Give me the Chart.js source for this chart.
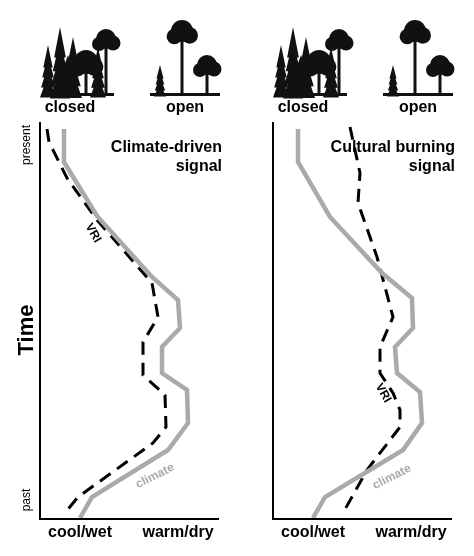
<!DOCTYPE html>
<html>
<head>
<meta charset="utf-8">
<script src="https://cdn.jsdelivr.net/npm/chart.js@4"></script>
<style>
  body { margin: 0; background: #fff; }
  .panel { position: absolute; top: 0; width: 237px; height: 556px; }
</style>
</head>
<body>
<div class="panel" style="left:0"><canvas id="left"></canvas></div>
<div class="panel" style="left:237px"><canvas id="right"></canvas></div>
<script>
// x: cool/wet (0) -> warm/dry (179), y: past (0) -> present (397)
const climateLeft = [[24,390],[24,357],[57,303],[112,242],[138,219],[140,191],[122,172],[122,146],[147,129],[148,96],[128,69],[52,22],[40,1]];
const vriLeft = [[7,390],[9,377],[27,341],[57,299],[112,236],[118,202],[103,177],[103,144],[125,124],[126,92],[113,76],[38,22],[25,6]];
const climateRight = [[25,390],[25,357],[57,302],[109,246],[139,221],[140,191],[122,172],[124,146],[147,127],[149,96],[130,69],[52,22],[40,1]];
const vriRight = [[77,392],[87,346],[85,316],[104,262],[120,202],[107,172],[107,146],[120,126],[127,109],[127,92],[94,49],[70,6]];
const axisLabels = ["cool/wet", "warm/dry"];
const treeLabels = ["closed", "open"];

const toPts = (arr) => arr.map(([x, y]) => ({ x, y }));

const conifer = (ctx, x, base, h, w) => {
    ctx.beginPath();
    const tiers = 4;
    for (let i = 0; i < tiers; i++) {
        const top = base - h + (h * i) / tiers * 0.8;
        const bot = top + h * 0.45;
        const ww = w * (0.45 + 0.55 * (i + 1) / tiers) / 2;
        ctx.moveTo(x, top);
        ctx.lineTo(x + ww, bot);
        ctx.lineTo(x - ww, bot);
        ctx.closePath();
    }
    ctx.fill();
    ctx.fillRect(x - 1, base - h * 0.2, 2, h * 0.2);
};
const blob = (ctx, x, y, r) => {
    ctx.beginPath();
    ctx.arc(x, y, r, 0, Math.PI * 2);
    ctx.fill();
};
const broad = (ctx, x, base, h, r) => {
    ctx.fillRect(x - 1.5, base - h + r, 3, h - r);
    blob(ctx, x, base - h + r, r);
    blob(ctx, x - r * 0.7, base - h + r * 1.5, r * 0.7);
    blob(ctx, x + r * 0.7, base - h + r * 1.4, r * 0.75);
};

const decor = {
    id: "decor",
    afterDraw(chart, args, opts) {
        const ctx = chart.ctx;
        const { left, right, top, bottom } = chart.chartArea;
        ctx.save();
        // axes
        ctx.strokeStyle = "#000";
        ctx.lineWidth = 2;
        ctx.beginPath();
        ctx.moveTo(left, top);
        ctx.lineTo(left, bottom);
        ctx.lineTo(right, bottom);
        ctx.stroke();
        // trees
        ctx.fillStyle = "#111";
        const b = 95;
        conifer(ctx, left + 8, b, 50, 16);
        conifer(ctx, left + 20, b, 68, 20);
        conifer(ctx, left + 33, b, 58, 18);
        broad(ctx, left + 46, b, 45, 12);
        conifer(ctx, left + 58, b, 48, 16);
        broad(ctx, left + 66, b, 66, 10);
        conifer(ctx, left + 28, b, 40, 22);
        conifer(ctx, left + 120, b, 30, 12);
        broad(ctx, left + 142, b, 75, 11);
        broad(ctx, left + 167, b, 40, 10);
        ctx.fillRect(left + 110, b - 2, 70, 3);
        ctx.fillRect(left + 2, b - 2, 72, 3);
        // labels
        ctx.fillStyle = "#000";
        ctx.textAlign = "center";
        ctx.textBaseline = "middle";
        ctx.font = "bold 16px Arial, 'Liberation Sans', sans-serif";
        ctx.fillText(treeLabels[0], left + 30, 108);
        ctx.fillText(treeLabels[1], left + 145, 108);
        ctx.fillText(axisLabels[0], left + 40, 533);
        ctx.fillText(axisLabels[1], left + 138, 533);
        ctx.textAlign = "right";
        ctx.fillText(opts.title[0], right + 3, 148);
        ctx.fillText(opts.title[1], right + 3, 167);
        // VRI label
        ctx.save();
        ctx.translate(left + opts.vri[0], opts.vri[1]);
        ctx.rotate(opts.vri[2] * Math.PI / 180);
        ctx.textAlign = "center";
        ctx.font = "bold 12px Arial, 'Liberation Sans', sans-serif";
        ctx.fillText("VRI", 0, 0);
        ctx.restore();
        // climate label
        ctx.save();
        ctx.translate(left + opts.clim[0], opts.clim[1]);
        ctx.rotate(-27 * Math.PI / 180);
        ctx.textAlign = "center";
        ctx.fillStyle = "#aaa";
        ctx.font = "bold 12px Arial, 'Liberation Sans', sans-serif";
        ctx.fillText("climate", 0, 0);
        ctx.restore();
        if (opts.yTitle) {
            ctx.save();
            ctx.translate(27, 330);
            ctx.rotate(-Math.PI / 2);
            ctx.textAlign = "center";
            ctx.font = "bold 22px Arial, 'Liberation Sans', sans-serif";
            ctx.fillText("Time", 0, 0);
            ctx.font = "12px Arial, 'Liberation Sans', sans-serif";
            ctx.fillText("present", 185, 0);
            ctx.fillText("past", -170, 0);
            ctx.restore();
        }
        ctx.restore();
    },
};

const makeChart = (id, climate, vri, padLeft, padRight, decorOpts) => new Chart(document.getElementById(id), {
    type: "scatter",
    data: {
        datasets: [
            { data: toPts(climate), showLine: true, borderColor: "#aaa", borderWidth: 4.5, pointRadius: 0, borderJoinStyle: "miter" },
            { data: toPts(vri), showLine: true, borderColor: "#000", borderWidth: 3, borderDash: [13, 8], pointRadius: 0 },
        ],
    },
    options: {
        responsive: true,
        maintainAspectRatio: false,
        animation: false,
        layout: { padding: { left: padLeft, right: padRight, top: 122, bottom: 37 } },
        plugins: { legend: { display: false }, tooltip: { enabled: false }, decor: decorOpts },
        scales: {
            x: { display: false, min: 0, max: 179 },
            y: { display: false, min: 0, max: 397 },
        },
    },
    plugins: [decor],
});

makeChart("left", climateLeft, vriLeft, 40, 18,
    { title: ["Climate-driven", "signal"], vri: [53, 233, 60], clim: [115, 476], yTitle: true });
makeChart("right", climateRight, vriRight, 36, 22,
    { title: ["Cultural burning", "signal"], vri: [110, 393, 60], clim: [119, 477], yTitle: false });
</script>
</body>
</html>
